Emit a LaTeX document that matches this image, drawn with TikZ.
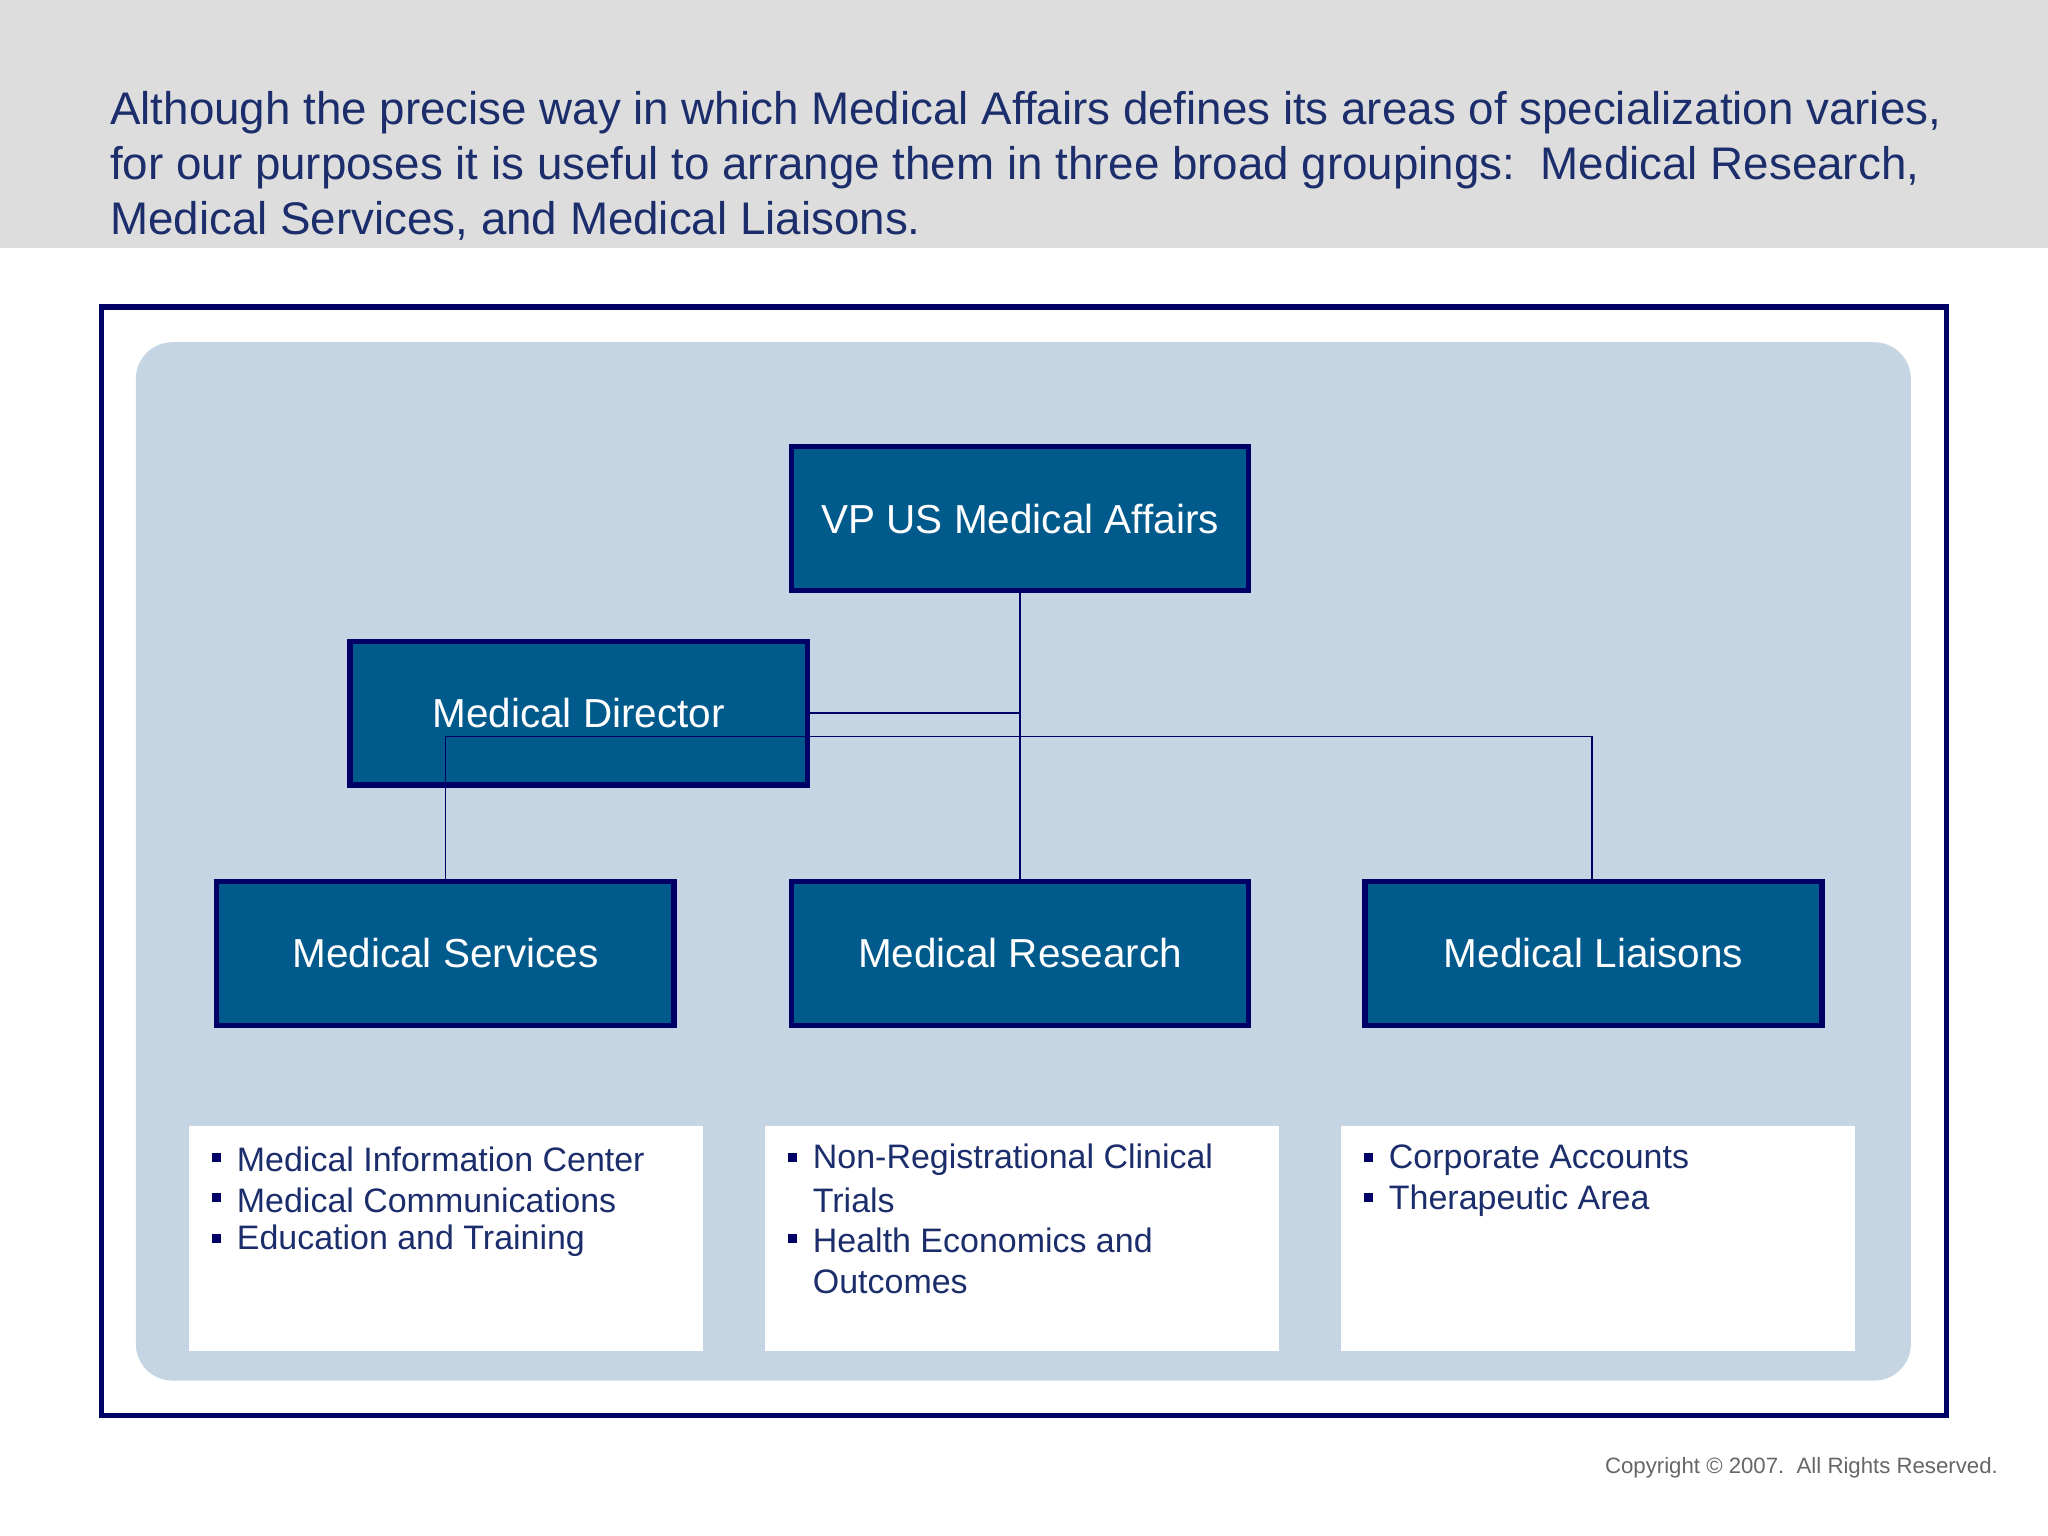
\documentclass[tikz,border=0pt]{standalone}
\usepackage{fontspec}
\setmainfont{Liberation Sans}
\begin{document}
\begin{tikzpicture}[x=0.5pt,y=-0.5pt,
  org/.style={draw=navyb,line width=2pt,fill=boxb,text=white,font=\fontsize{15.5}{18}\selectfont},
  wbox/.style={fill=white,draw=none},
  conn/.style={draw=navyb,line width=0.6pt},
  bl/.style={anchor=west,text=titc,font=\fontsize{13}{15}\selectfont,inner sep=0pt},
  sq/.style={fill=navyb,minimum size=3.5pt,inner sep=0pt}]
\definecolor{navyb}{RGB}{0,0,102}
\definecolor{boxb}{RGB}{0,90,140}
\definecolor{titc}{RGB}{28,45,107}
\definecolor{panel}{RGB}{197,213,227}
\definecolor{hdr}{RGB}{221,221,221}
\useasboundingbox (0,0) rectangle (1568,1176);
\fill[hdr] (0,0) rectangle (1568,190);
\node[anchor=west,align=left,text=titc,font=\fontsize{17.5}{21}\selectfont,inner sep=0pt] (title) at (84,127)
 {Although the precise way in which Medical Affairs defines its areas of specialization varies,\\
 for our purposes it is useful to arrange them in three broad groupings:\ \ Medical Research,\\
 Medical Services, and Medical Liaisons.};
\draw[navyb,line width=2pt] (78,235) rectangle (1490,1084);
\fill[panel,rounded corners=14pt] (104,262) rectangle (1463,1057);
\node[org,minimum width=175pt,minimum height=55pt] (vp) at (781,397) {VP US Medical Affairs};
\node[org,minimum width=175pt,minimum height=55pt] (md) at (443,546) {Medical Director};
\node[org,minimum width=175pt,minimum height=55pt] (ms) at (341,730) {Medical Services};
\node[org,minimum width=175pt,minimum height=55pt] (mr) at (781,730) {Medical Research};
\node[org,minimum width=175pt,minimum height=55pt] (ml) at (1220,730) {Medical Liaisons};
\coordinate (j1) at (781,546);
\coordinate (j2) at (781,564);
\coordinate (hl) at (341,564);
\coordinate (hr) at (1219,564);
\draw[conn] (vp.south) -- (mr.north);
\draw[conn] (md.east |- j1) -- (j1);
\draw[conn] (ms.north) -- (hl) -- (hr) -- (ml.north -| hr);
\fill[white] (145,862) rectangle (538,1034);
\fill[white] (586,862) rectangle (979,1034);
\fill[white] (1027,862) rectangle (1420,1034);
\node[sq] (b1) at (166,886) {}; \node[bl] (t1) at (181,888) {Medical Information Center};
\node[sq] (b2) at (166,917) {}; \node[bl] (t2) at (181,919) {Medical Communications};
\node[sq] (b3) at (166,948) {}; \node[bl] (t3) at (181,950) {Education and Training};
\node[sq] (b4) at (607,886) {}; \node[bl] (t4) at (622,888) {Non-Registrational Clinical};
\node[bl] (t5) at (622,919) {Trials};
\node[sq] (b6) at (607,948) {}; \node[bl] (t6) at (622,950) {Health Economics and};
\node[bl] (t7) at (622,981) {Outcomes};
\node[sq] (b8) at (1048,886) {}; \node[bl] (t8) at (1063,888) {Corporate Accounts};
\node[sq] (b9) at (1048,917) {}; \node[bl] (t9) at (1063,919) {Therapeutic Area};
\node[anchor=east,text=black!60,font=\fontsize{8.5}{10}\selectfont,inner sep=0pt] (copy) at (1530,1124) {Copyright \textcopyright\ 2007.\ \ All Rights Reserved.};
\end{tikzpicture}
\end{document}
